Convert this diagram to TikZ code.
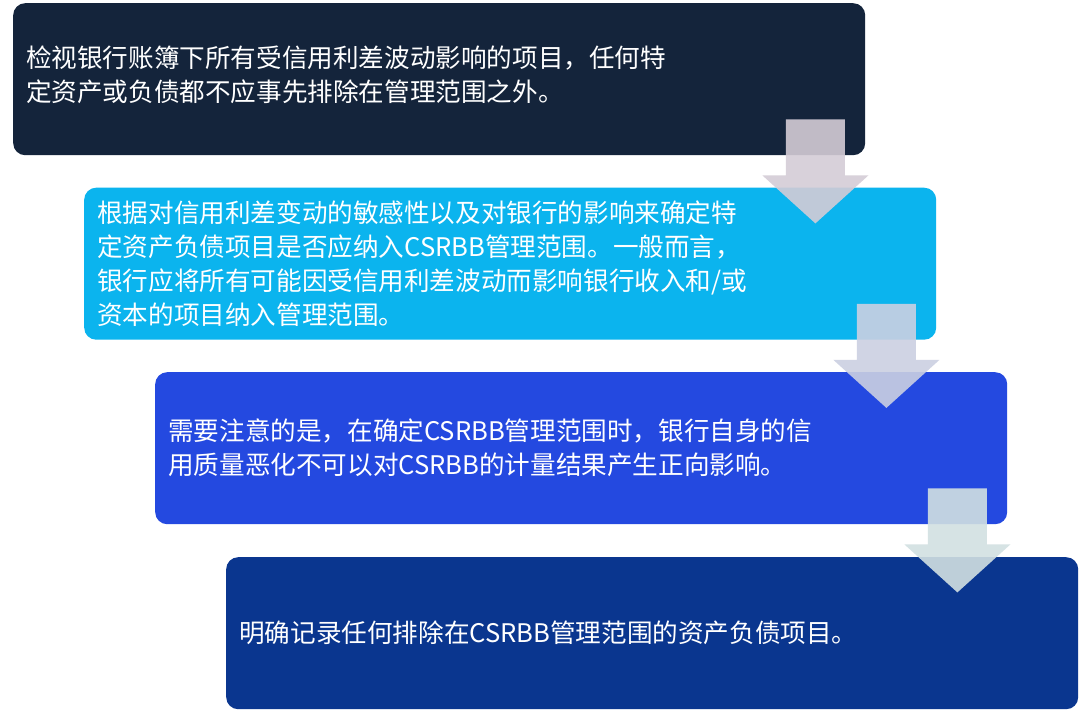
\documentclass[tikz,border=0pt]{standalone}
\usepackage{fontspec}
\setmainfont{Noto Sans CJK SC}
\usetikzlibrary{calc}
\definecolor{cA}{HTML}{14243B}
\definecolor{cB}{HTML}{0BB4EE}
\definecolor{cC}{HTML}{2449E0}
\definecolor{cD}{HTML}{0A368F}
\definecolor{arA}{HTML}{D4CCD6}
\definecolor{arB}{HTML}{CBD0E2}
\definecolor{arC}{HTML}{D2E0E2}
\tikzset{
  stepbox/.style={rectangle, rounded corners=12pt, anchor=north west,
    minimum width=852pt, minimum height=152pt, inner xsep=13pt, inner ysep=0pt,
    text width=826pt, align=left, text=white,
    font=\fontsize{25.6pt}{34pt}\selectfont},
  blockarrow/.style={fill opacity=0.9, draw=none}
}
\begin{document}
\begin{tikzpicture}[x=1pt,y=-1pt]
\fill[white] (0,0) rectangle (1080,712);
\useasboundingbox (0,0) rectangle (1080,712);
\node[stepbox, fill=cA] (b1) at (13,3)
  {检视银行账簿下所有受信用利差波动影响的项目，任何特\\定资产或负债都不应事先排除在管理范围之外。\rule[-12pt]{0pt}{12pt}};
\node[stepbox, fill=cB] (b2) at (84,187.5)
  {根据对信用利差变动的敏感性以及对银行的影响来确定特\\定资产负债项目是否应纳入CSRBB管理范围。一般而言，\\银行应将所有可能因受信用利差波动而影响银行收入和/或\\资本的项目纳入管理范围。};
\node[stepbox, fill=cC] (b3) at (155,372)
  {需要注意的是，在确定CSRBB管理范围时，银行自身的信\\用质量恶化不可以对CSRBB的计量结果产生正向影响。};
\node[stepbox, fill=cD] (b4) at (226,557)
  {明确记录任何排除在CSRBB管理范围的资产负债项目。};
\foreach \a/\b/\c in {b1/b2/arA, b2/b3/arB, b3/b4/arC}{
  \fill[blockarrow, fill=\c]
    ($(\a.south east)+(-79.5,-36)$) -- ($(\a.south east)+(-20.5,-36)$)
    -- ($(\a.south east)+(-20.5,20)$) -- ($(\a.south east)+(3,20)$)
    -- ($(\a.south east)+(-50,68)$) -- ($(\a.south east)+(-103,20)$)
    -- ($(\a.south east)+(-79.5,20)$) -- cycle;
}
\end{tikzpicture}
\end{document}
